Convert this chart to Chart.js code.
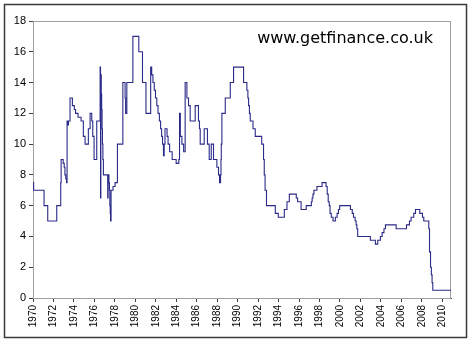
<!DOCTYPE html>
<html>
<head>
<meta charset="utf-8">
<script src="https://cdn.jsdelivr.net/npm/chart.js@4.4.1/dist/chart.umd.min.js"></script>
<style>
  body { margin: 0; background: #fff; }
  #wrap { position: relative; width: 474px; height: 351px; }
</style>
</head>
<body>
<div id="wrap"><canvas id="rateChart" width="474" height="351"></canvas></div>
<script>
// Fechas (año decimal) en que cambia el tipo, y el tipo desde esa fecha
const rateDates = [
  1970.00, 1970.06, 1971.08, 1971.44, 1972.32, 1972.71, 1972.75, 1972.95, 1973.05, 1973.12,
  1973.20, 1973.28, 1973.33, 1973.40, 1973.47, 1973.62, 1973.85, 1974.04, 1974.16, 1974.40,
  1974.70, 1974.92, 1975.09, 1975.41, 1975.58, 1975.74, 1975.84, 1975.97, 1976.23, 1976.56,
  1976.60, 1976.63, 1976.67, 1976.71, 1976.75, 1976.79, 1976.83, 1976.88, 1977.30, 1977.34,
  1977.42, 1977.47, 1977.51, 1977.55, 1977.58, 1977.63, 1977.82, 1978.02, 1978.25, 1978.78,
  1979.00, 1979.05, 1979.17, 1979.76, 1980.34, 1980.70, 1981.04, 1981.50, 1981.60, 1981.72,
  1981.85, 1981.97, 1982.10, 1982.22, 1982.35, 1982.47, 1982.57, 1982.66, 1982.75, 1982.82,
  1982.90, 1983.10, 1983.20, 1983.35, 1983.60, 1983.99, 1984.25, 1984.32, 1984.40, 1984.55,
  1984.72, 1984.87, 1985.04, 1985.20, 1985.36, 1985.85, 1986.17, 1986.27, 1986.34, 1986.73,
  1987.05, 1987.22, 1987.42, 1987.64, 1987.97, 1988.13, 1988.23, 1988.33, 1988.37, 1988.40,
  1988.46, 1988.79, 1989.28, 1989.60, 1990.58, 1990.90, 1991.00, 1991.07, 1991.15, 1991.23,
  1991.50, 1991.72, 1992.35, 1992.53, 1992.60, 1992.68, 1992.82, 1993.68, 1993.97, 1994.56,
  1994.82, 1995.05, 1995.73, 1995.86, 1996.20, 1996.70, 1997.20, 1997.28, 1997.36, 1997.45,
  1997.75, 1998.25, 1998.64, 1998.75, 1998.85, 1998.95, 1999.03, 1999.15, 1999.32, 1999.55,
  1999.72, 1999.85, 1999.97, 2001.02, 2001.20, 2001.32, 2001.48, 2001.58, 2001.65, 2001.73,
  2002.97, 2003.46, 2003.69, 2003.95, 2004.12, 2004.30, 2004.44, 2005.49, 2006.50, 2006.79,
  2006.95, 2007.21, 2007.38, 2007.80, 2008.06, 2008.19, 2008.68, 2008.75, 2008.85, 2008.93,
  2009.00, 2009.07, 2010.85
];
const rateValues = [
  7.5, 7, 6, 5, 6, 7.5, 9, 8.75, 8.5, 8,
  7.75, 7.5, 11.5, 11.25, 11.5, 13, 12.5, 12.25, 12, 11.75,
  11.5, 10.5, 10, 11, 12, 11.5, 10.5, 9, 11.5, 15,
  6.5, 14.5, 13.25, 12.25, 11, 10, 9, 8, 6.5, 8,
  7.5, 7, 6, 5.5, 5, 7, 7.25, 7.5, 10, 14,
  13, 12, 14, 17, 16, 14, 12, 15, 14.5, 14,
  13.5, 13, 12.5, 12, 11.5, 11, 10.5, 10, 9.25, 10,
  11, 10.5, 10, 9.5, 9, 8.75, 9, 12, 10.5, 10,
  9.5, 14, 13, 12.5, 11.5, 12.5, 11.5, 11, 10, 11,
  10, 9, 10, 9, 8.5, 8, 7.5, 8, 9, 10,
  12, 13, 14, 15, 14, 13.5, 13, 12.5, 12, 11.5,
  11, 10.5, 10, 9, 8, 7, 6, 5.5, 5.25, 5.75,
  6.25, 6.75, 6.5, 6.25, 5.75, 6, 6.25, 6.5, 6.75, 7,
  7.25, 7.5, 7.25, 6.75, 6.25, 6, 5.5, 5.25, 5, 5.25,
  5.5, 5.75, 6, 5.75, 5.5, 5.25, 5, 4.75, 4.5, 4,
  3.75, 3.5, 3.75, 4, 4.25, 4.5, 4.75, 4.5, 4.75, 5,
  5.25, 5.5, 5.75, 5.5, 5.25, 5, 4.5, 3, 2, 1.5,
  1, 0.5, 0.5
];

// Marcas de los ejes
const xTicks = [1970, 1972, 1974, 1976, 1978, 1980, 1982, 1984, 1986, 1988, 1990,
                1992, 1994, 1996, 1998, 2000, 2002, 2004, 2006, 2008, 2010];
const yTicks = [0, 2, 4, 6, 8, 10, 12, 14, 16, 18];
const watermark = 'www.getfinance.co.uk';

const points = rateDates.map((d, i) => ({ x: d, y: rateValues[i] }));

// Bordes del área de trazado y del gráfico, más la marca de agua
const framePlugin = {
  id: 'frame',
  beforeDatasetsDraw(chart) {
    const a = chart.chartArea;
    const ctx = chart.ctx;
    ctx.save();
    ctx.strokeStyle = '#a0a0a0';
    ctx.lineWidth = 1;
    ctx.strokeRect(a.left + 0.5, a.top + 0.5, a.right - a.left - 1, a.bottom - a.top);
    ctx.restore();
  },
  afterDraw(chart) {
    const a = chart.chartArea;
    const ctx = chart.ctx;
    ctx.save();
    ctx.strokeStyle = '#3a3a3a';
    ctx.lineWidth = 1.5;
    ctx.strokeRect(4.5, 4.5, 462, 333);
    ctx.fillStyle = '#000';
    ctx.font = '16px "DejaVu Sans", Verdana, sans-serif';
    ctx.textAlign = 'right';
    ctx.textBaseline = 'alphabetic';
    ctx.fillText(watermark, a.right - 18, 43);
    ctx.restore();
  }
};

const ctx = document.getElementById('rateChart').getContext('2d');
new Chart(ctx, {
  type: 'line',
  data: {
    datasets: [{
      data: points,
      stepped: true,
      borderColor: '#2a2a88',
      borderWidth: 1.1,
      pointRadius: 0,
      fill: false
    }]
  },
  options: {
    responsive: false,
    animation: false,
    layout: { padding: { left: 0, top: 21, right: 23, bottom: 0 } },
    plugins: {
      legend: { display: false },
      tooltip: { enabled: false }
    },
    scales: {
      x: {
        type: 'linear',
        min: 1970,
        max: 2010.85,
        afterBuildTicks: s => { s.ticks = xTicks.map(v => ({ value: v })); },
        afterFit: s => { s.height = 53; },
        border: { display: true, color: '#404040', width: 1 },
        grid: { display: true, drawOnChartArea: false, drawTicks: true, tickLength: 4, color: '#404040' },
        ticks: {
          autoSkip: false,
          minRotation: 90,
          maxRotation: 90,
          padding: 3,
          color: '#000',
          font: { family: '"Liberation Sans", Arial, sans-serif', size: 10 },
          callback: v => String(v)
        }
      },
      y: {
        min: 0,
        max: 18,
        afterBuildTicks: s => { s.ticks = yTicks.map(v => ({ value: v })); },
        afterFit: s => { s.width = 33; },
        border: { display: true, color: '#404040', width: 1 },
        grid: { display: true, drawOnChartArea: false, drawTicks: true, tickLength: 4, color: '#404040' },
        ticks: {
          padding: 3,
          color: '#000',
          font: { family: '"Liberation Sans", Arial, sans-serif', size: 11 },
          callback: v => String(v)
        }
      }
    }
  },
  plugins: [framePlugin]
});
</script>
</body>
</html>
